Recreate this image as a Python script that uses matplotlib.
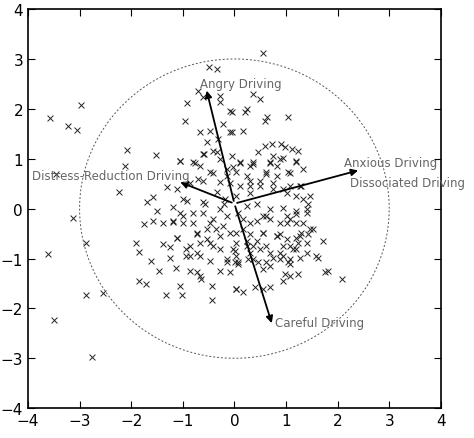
import numpy as np
import matplotlib
matplotlib.use("Agg")
import matplotlib.pyplot as plt

pts = [
(-3.58,1.81),(-3.22,1.65),(-3.05,1.57),(-2.97,2.07),(-2.08,1.17),(-2.12,0.85),(-1.52,1.07),(-2.24,0.33),
(-3.46,0.69),(-1.06,0.95),(-0.92,2.11),(-0.96,1.75),(-0.7,2.35),(-0.6,2.24),(-0.49,2.84),(-0.34,2.8),
(-0.27,2.25),(-0.27,2.13),(-0.05,1.93),(0.56,3.11),(0.36,2.29),(0.5,2.19),(0.2,1.93),(0.24,2.0),
(0.6,1.75),(0.63,1.83),(1.04,1.83),(-0.09,1.95),(-0.05,1.53),(0.17,1.55),
(0.46,1.13),(0.59,1.26),(0.72,1.29),(0.91,1.29),(0.98,1.23),(1.11,1.19),(1.24,1.16),(1.2,0.93),
(0.88,0.99),(0.75,1.06),(0.69,0.93),(0.36,0.93),(0.11,0.93),(0.3,0.86),(0.82,0.86),(1.04,0.73),
(0.62,0.73),(0.49,0.56),(0.24,0.66),(0.04,0.73),(1.08,0.46),(1.3,0.46),(1.2,0.26),(1.33,0.19),
(1.43,0.09),(0.95,0.39),(0.75,0.52),(0.3,0.46),(0.11,0.46),
(1.72,-0.65),(1.62,-0.98),(1.75,-1.28),(1.82,-1.25),(2.08,-1.41),(1.46,-0.41),(1.43,-0.51),(1.3,-0.48),
(1.4,-0.68),(1.24,-0.68),(1.2,-0.58),(1.27,-0.98),(1.08,-1.01),(1.04,-1.08),(0.95,-0.95),
(0.98,-1.31),(1.08,-1.35),(1.24,-1.31),(0.95,-1.45),(0.69,-1.58),(0.56,-1.61),(0.4,-1.58),(0.17,-1.68),
(0.04,-1.61),(0.07,-1.11),(0.01,-1.08),(0.27,-1.01),(0.46,-1.08),(0.56,-1.21),(0.69,-1.15),(0.75,-0.98),
(0.88,-0.88),(0.88,-0.51),(0.82,-0.55),(0.56,-0.48),(0.43,-0.65),(0.24,-0.65),(0.04,-0.68),(-0.02,-0.81),
(0.3,-0.88),(1.08,-0.75),(1.14,-0.81),(1.01,-0.28),(1.2,-0.28),(0.69,-0.21),(0.56,-0.14),(0.3,-0.28),
(0.17,-0.41),(0.36,-0.75),(0.62,-0.75),(1.4,-0.08),(1.2,-0.11),(1.01,-0.14),
(-3.12,-0.18),(-3.62,-0.91),(-2.88,-0.68),(-2.88,-1.73),(-2.54,-1.7),(-3.5,-2.23),(-2.76,-2.97),
(-1.91,-0.68),(-1.84,-0.86),(-1.84,-1.45),(-1.72,-1.51),(-1.62,-1.05),(-1.47,-1.26),(-1.33,-1.73),
(-1.06,-1.55),(-1.02,-1.73),(-0.43,-1.55),(-0.43,-1.83),(0.03,-1.61),(-1.38,-0.71),(-1.25,-0.77),
(-1.25,-0.98),(-1.13,-1.19),(-1.12,-0.58),(-1.75,-0.31),(-1.57,-0.24),(-1.38,-0.28),(-1.19,-0.26),
(-0.93,-0.81),(-0.86,-0.95),(-0.73,-0.88),(-0.67,-0.68),(-0.54,-0.61),(-0.41,-0.75),(-0.86,-1.25),
(-0.73,-1.28),(-0.67,-1.35),(-0.64,-1.41),(-0.47,-1.05),(-0.28,-1.25),(-0.09,-1.28),(-0.15,-1.08),
(0.01,-0.85),(0.07,-1.08),(-0.99,-0.14),(-0.8,-0.28),(-0.6,-0.08),(-0.41,-0.21),(-0.22,-0.34),
(-0.09,-0.48),(-0.28,-0.55),(-0.73,-0.51),
(-0.67,1.53),(-0.47,1.56),(-0.53,1.33),(-0.59,1.09),(-0.8,0.93),(-0.67,0.85),(-0.47,0.73),(-0.7,0.59),
(-1.31,0.43),(-1.12,0.39),(-1.7,0.13),(-1.57,0.23),(-1.5,-0.05),(-1.19,0.03),(-0.92,0.15),(-0.6,0.13),
(-0.34,0.33),(-0.28,0.53),(-0.15,0.65),(-0.03,0.83),(-0.34,1.13),(-0.22,1.69),(-0.09,1.53),(-0.32,1.39),
(-0.05,1.05),(-0.2,0.1),
(-1.06,0.96),(-0.77,0.92),(-0.6,1.09),(-0.41,1.16),(-0.28,0.99),(-0.41,0.72),(-0.6,0.56),(-0.86,0.52),
(-0.99,0.19),(-1.19,-0.25),(-0.99,-0.28),(-1.12,-0.58),(-0.8,-0.08),(-0.57,0.09),(-0.47,-0.28),(-0.28,-0.01),
(-0.35,-0.41),(-0.15,-0.15),(-0.18,0.19),(0.04,0.25),(0.11,0.92),(0.37,0.89),(0.69,0.92),(0.95,1.02),
(1.2,0.96),(0.62,0.69),(0.82,0.66),(1.08,0.72),(1.33,0.79),(0.3,0.56),(0.49,0.46),(0.75,0.39),
(1.01,0.32),(1.27,0.46),(1.46,0.26),(0.24,0.06),(0.43,0.09),(0.69,-0.01),(0.95,0.02),(1.2,-0.05),
(1.4,-0.01),(0.17,-0.21),(0.43,-0.25),(0.62,-0.15),(0.88,-0.28),(1.08,-0.21),(1.33,-0.28),(1.53,-0.41),
(0.04,-0.48),(0.3,-0.51),(0.56,-0.48),(0.82,-0.55),(1.01,-0.61),(1.27,-0.55),(0.24,-0.75),(0.49,-0.81),
(0.69,-0.88),(0.95,-0.75),(1.2,-0.81),(1.4,-0.88),(0.04,-0.95),(0.37,-1.01),(0.62,-1.08),(0.88,-1.01),
(1.08,-1.11),(-0.86,-0.75),(-0.67,-0.95),(-0.93,-0.95),(-0.47,-0.68),(-0.28,-0.81),(-0.15,-1.01),
(-0.54,-0.41),(-0.73,-0.48),(-1.06,-0.08),(0.07,-0.08),(-0.09,0.52),(0.3,0.32),(1.59,-0.95),(-0.15,0.79),
]
score_x = [p[0] for p in pts]
score_y = [p[1] for p in pts]

arrow_names = ["Angry Driving", "Distress-Reduction Driving", "Anxious Driving", "Dissociated Driving", "Careful Driving"]
arrow_x = [-0.55, -1.1, 2.45, 2.45, 0.74]
arrow_y = [2.42, 0.55, 0.78, 0.78, -2.35]
label_x = [-0.67, -3.92, 2.12, 2.24, 0.78]
label_y = [2.5, 0.67, 0.93, 0.53, -2.29]
origin = (0.0, 0.1)
circle_r = 3.0

fig = plt.figure(figsize=(4.74, 4.39), dpi=100)
ax = fig.add_axes([0.059, 0.068, 0.871, 0.909])
ax.scatter(score_x, score_y, marker='x', s=18, c='#222222', linewidths=0.7, zorder=2)
t = np.linspace(0, 2*np.pi, 400)
ax.plot(circle_r*np.cos(t), circle_r*np.sin(t), ls=(0, (2, 2)), color='#555555', lw=0.7)
for i in [0, 1, 2, 4]:
    ax.annotate('', xy=(arrow_x[i], arrow_y[i]), xytext=origin,
                arrowprops=dict(arrowstyle='-|>', color='black', lw=1.3, mutation_scale=10), zorder=3)
for n, lx, ly in zip(arrow_names, label_x, label_y):
    ax.text(lx, ly, n, fontsize=8.5, color='#666666', va='center', ha='left', zorder=4)
ax.set_xlim(-4, 4)
ax.set_ylim(-4, 4)
ax.set_xticks(range(-4, 5))
ax.set_yticks(range(-4, 5))
ax.tick_params(direction='in', top=True, right=True, labelsize=11, length=5)
for s in ax.spines.values():
    s.set_linewidth(1.2)
fig.savefig('out.png', dpi=100)
